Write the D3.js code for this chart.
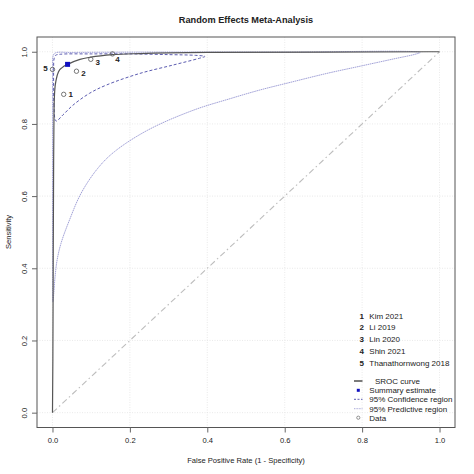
<!DOCTYPE html>
<html><head><meta charset="utf-8">
<script src="https://cdn.jsdelivr.net/npm/d3@7"></script>
<style>body{margin:0;background:#fff}text{font-family:"Liberation Sans",Arial,sans-serif;fill:#222}</style>
</head><body><svg id="c" width="474" height="474"></svg>
<script>
const studyNames = ["Kim 2021","Li 2019","Lin 2020","Shin 2021","Thanathornwong 2018"];
const studyIds = ["1","2","3","4","5"];
const studyFpr = [0.029,0.062,0.099,0.155,0.0];
const studySens = [0.882,0.946,0.979,0.994,0.951];
const summaryFpr = [0.039];
const summarySens = [0.965];
const srocFpr = [0,0.001,0.002,0.003,0.004,0.006,0.010,0.016,0.025,0.039,0.071,0.099,0.155,0.226,0.4,0.7,1.0];
const srocSens = [0,0.15,0.45,0.7,0.84,0.895,0.925,0.945,0.956,0.965,0.979,0.985,0.992,0.995,0.998,0.999,1.0];
const confFpr = [0.009,0.004,0.003,0.003,0.004,0.008,0.02,0.1,0.2,0.3,0.37,0.394,0.38,0.311,0.226,0.14,0.096,0.053,0.027];
const confSens = [0.808,0.85,0.9,0.95,0.98,0.99,0.993,0.994,0.994,0.992,0.99,0.987,0.982,0.963,0.94,0.908,0.885,0.852,0.825];
const predFpr = [0.001,0.0003,0.0002,0.0003,0.0005,0.002,0.008,0.05,0.3,0.6,0.95,0.937,0.881,0.795,0.709,0.614,0.536,0.459,0.364,0.2465,0.160,0.117,0.074,0.044,0.022,0.012,0.0067,0.0034];
const predSens = [0.307,0.4,0.6,0.8,0.95,0.99,0.997,0.998,0.999,0.999,0.998,0.993,0.980,0.960,0.940,0.915,0.894,0.870,0.838,0.783,0.723,0.677,0.608,0.534,0.469,0.423,0.377,0.331];
const ticks = [0,0.2,0.4,0.6,0.8,1.0];
const legendItems = ["SROC curve","Summary estimate","95% Confidence region","95% Predictive region","Data"];

const svg = d3.select("#c");
const x = d3.scaleLinear().domain([-0.04,1.04]).range([37,455]);
const y = d3.scaleLinear().domain([-0.04,1.04]).range([427.1,37.3]);

// grid
const g = svg.append("g");
ticks.forEach(t=>{
  g.append("line").attr("x1",x(t)).attr("x2",x(t)).attr("y1",37).attr("y2",427.5).attr("stroke","#e4e4e4").attr("stroke-width",0.8).attr("stroke-dasharray","1,1.5");
  g.append("line").attr("y1",y(t)).attr("y2",y(t)).attr("x1",37).attr("x2",455).attr("stroke","#e4e4e4").attr("stroke-width",0.8).attr("stroke-dasharray","1,1.5");
});

// diagonal
svg.append("line").attr("x1",x(0)).attr("y1",y(0)).attr("x2",x(1)).attr("y2",y(1))
  .attr("stroke","#bdbdbd").attr("stroke-width",1.1).attr("stroke-dasharray","6,3,1.5,3");

const lineGen = d3.line().x(d=>x(d[0])).y(d=>y(d[1])).curve(d3.curveCatmullRomClosed.alpha(0.5));
const pred = predFpr.map((f,i)=>[f,predSens[i]]);
svg.append("path").attr("d",lineGen(pred)).attr("fill","none").attr("stroke","#a3a3d8").attr("stroke-width",1).attr("stroke-dasharray","1.6,0.6");
const conf = confFpr.map((f,i)=>[f,confSens[i]]);
svg.append("path").attr("d",lineGen(conf)).attr("fill","none").attr("stroke","#5b5bb0").attr("stroke-width",1).attr("stroke-dasharray","3,2");

const sroc = srocFpr.map((f,i)=>[f,srocSens[i]]);
svg.append("path").attr("d",d3.line().x(d=>x(d[0])).y(d=>y(d[1])).curve(d3.curveMonotoneX)(sroc))
  .attr("fill","none").attr("stroke","#555").attr("stroke-width",1.2);

// data points
studyFpr.forEach((f,i)=>{
  svg.append("circle").attr("cx",x(f)).attr("cy",y(studySens[i])).attr("r",2.2).attr("fill","none").attr("stroke","#666").attr("stroke-width",0.9);
});
const offs = [[7,3],[7,5],[7,6],[5,8],[-7,2]];
studyIds.forEach((s,i)=>{
  svg.append("text").attr("x",x(studyFpr[i])+offs[i][0]).attr("y",y(studySens[i])+offs[i][1])
    .attr("text-anchor","middle").attr("font-size",8).attr("font-weight","bold").text(s);
});
svg.append("rect").attr("x",x(summaryFpr[0])-2.5).attr("y",y(summarySens[0])-2.5).attr("width",5).attr("height",5).attr("fill","#1010c0");

// frame
svg.append("rect").attr("x",37).attr("y",37).attr("width",418).attr("height",390.5).attr("fill","none").attr("stroke","#555").attr("stroke-width",1);

// axes
const xa = svg.append("g").attr("transform","translate(0,427.5)").call(d3.axisBottom(x).tickValues(ticks).tickFormat(d3.format(".1f")).tickSize(5).tickPadding(5));
const ya = svg.append("g").attr("transform","translate(37,0)").call(d3.axisLeft(y).tickValues(ticks).tickFormat(d3.format(".1f")).tickSize(5).tickPadding(5));
[xa,ya].forEach(a=>{a.select(".domain").remove();a.selectAll("line").attr("stroke","#666");a.selectAll("text").attr("font-size",7.6).attr("font-family","Liberation Sans, Arial").attr("fill","#333");});
ya.selectAll("text").attr("x",0).attr("y",0).attr("dy","0.35em").attr("text-anchor","middle").attr("transform","translate(-13,0) rotate(-90)");

// titles
svg.append("text").attr("x",246).attr("y",23).attr("text-anchor","middle").attr("font-size",9.2).attr("font-weight","bold").text("Random Effects Meta-Analysis");
svg.append("text").attr("x",246).attr("y",463).attr("text-anchor","middle").attr("font-size",7.6).text("False Positive Rate (1 - Specificity)");
svg.append("text").attr("transform","translate(10.5,232) rotate(-90)").attr("text-anchor","middle").attr("font-size",7.6).text("Sensitivity");

// legend 1
studyNames.forEach((n,i)=>{
  const yy = 315.7 + i*11.8;
  svg.append("text").attr("x",361.7).attr("y",yy).attr("dy","0.35em").attr("text-anchor","middle").attr("font-size",8).attr("font-weight","bold").text(studyIds[i]);
  svg.append("text").attr("x",369.3).attr("y",yy).attr("dy","0.35em").attr("font-size",8).text(n);
});
// legend 2
const ly = [381,390.3,399.3,408.7,417.7];
const lx = [375,369.3,369.3,369.3,369.3];
legendItems.forEach((n,i)=>{
  svg.append("text").attr("x",lx[i]).attr("y",ly[i]).attr("dy","0.35em").attr("font-size",8).text(n);
});
svg.append("line").attr("x1",354).attr("x2",362.5).attr("y1",ly[0]).attr("y2",ly[0]).attr("stroke","#333").attr("stroke-width",1.3);
svg.append("rect").attr("x",356.8).attr("y",ly[1]-1.5).attr("width",3).attr("height",3).attr("fill","#1010c0");
svg.append("line").attr("x1",354).attr("x2",362.5).attr("y1",ly[2]).attr("y2",ly[2]).attr("stroke","#5b5bb0").attr("stroke-dasharray","2,1.5");
svg.append("line").attr("x1",354).attr("x2",362.5).attr("y1",ly[3]).attr("y2",ly[3]).attr("stroke","#aaaad8").attr("stroke-dasharray","1,0.6");
svg.append("circle").attr("cx",358.3).attr("cy",ly[4]).attr("r",1.6).attr("fill","none").attr("stroke","#777").attr("stroke-width",0.8);
</script></body></html>
